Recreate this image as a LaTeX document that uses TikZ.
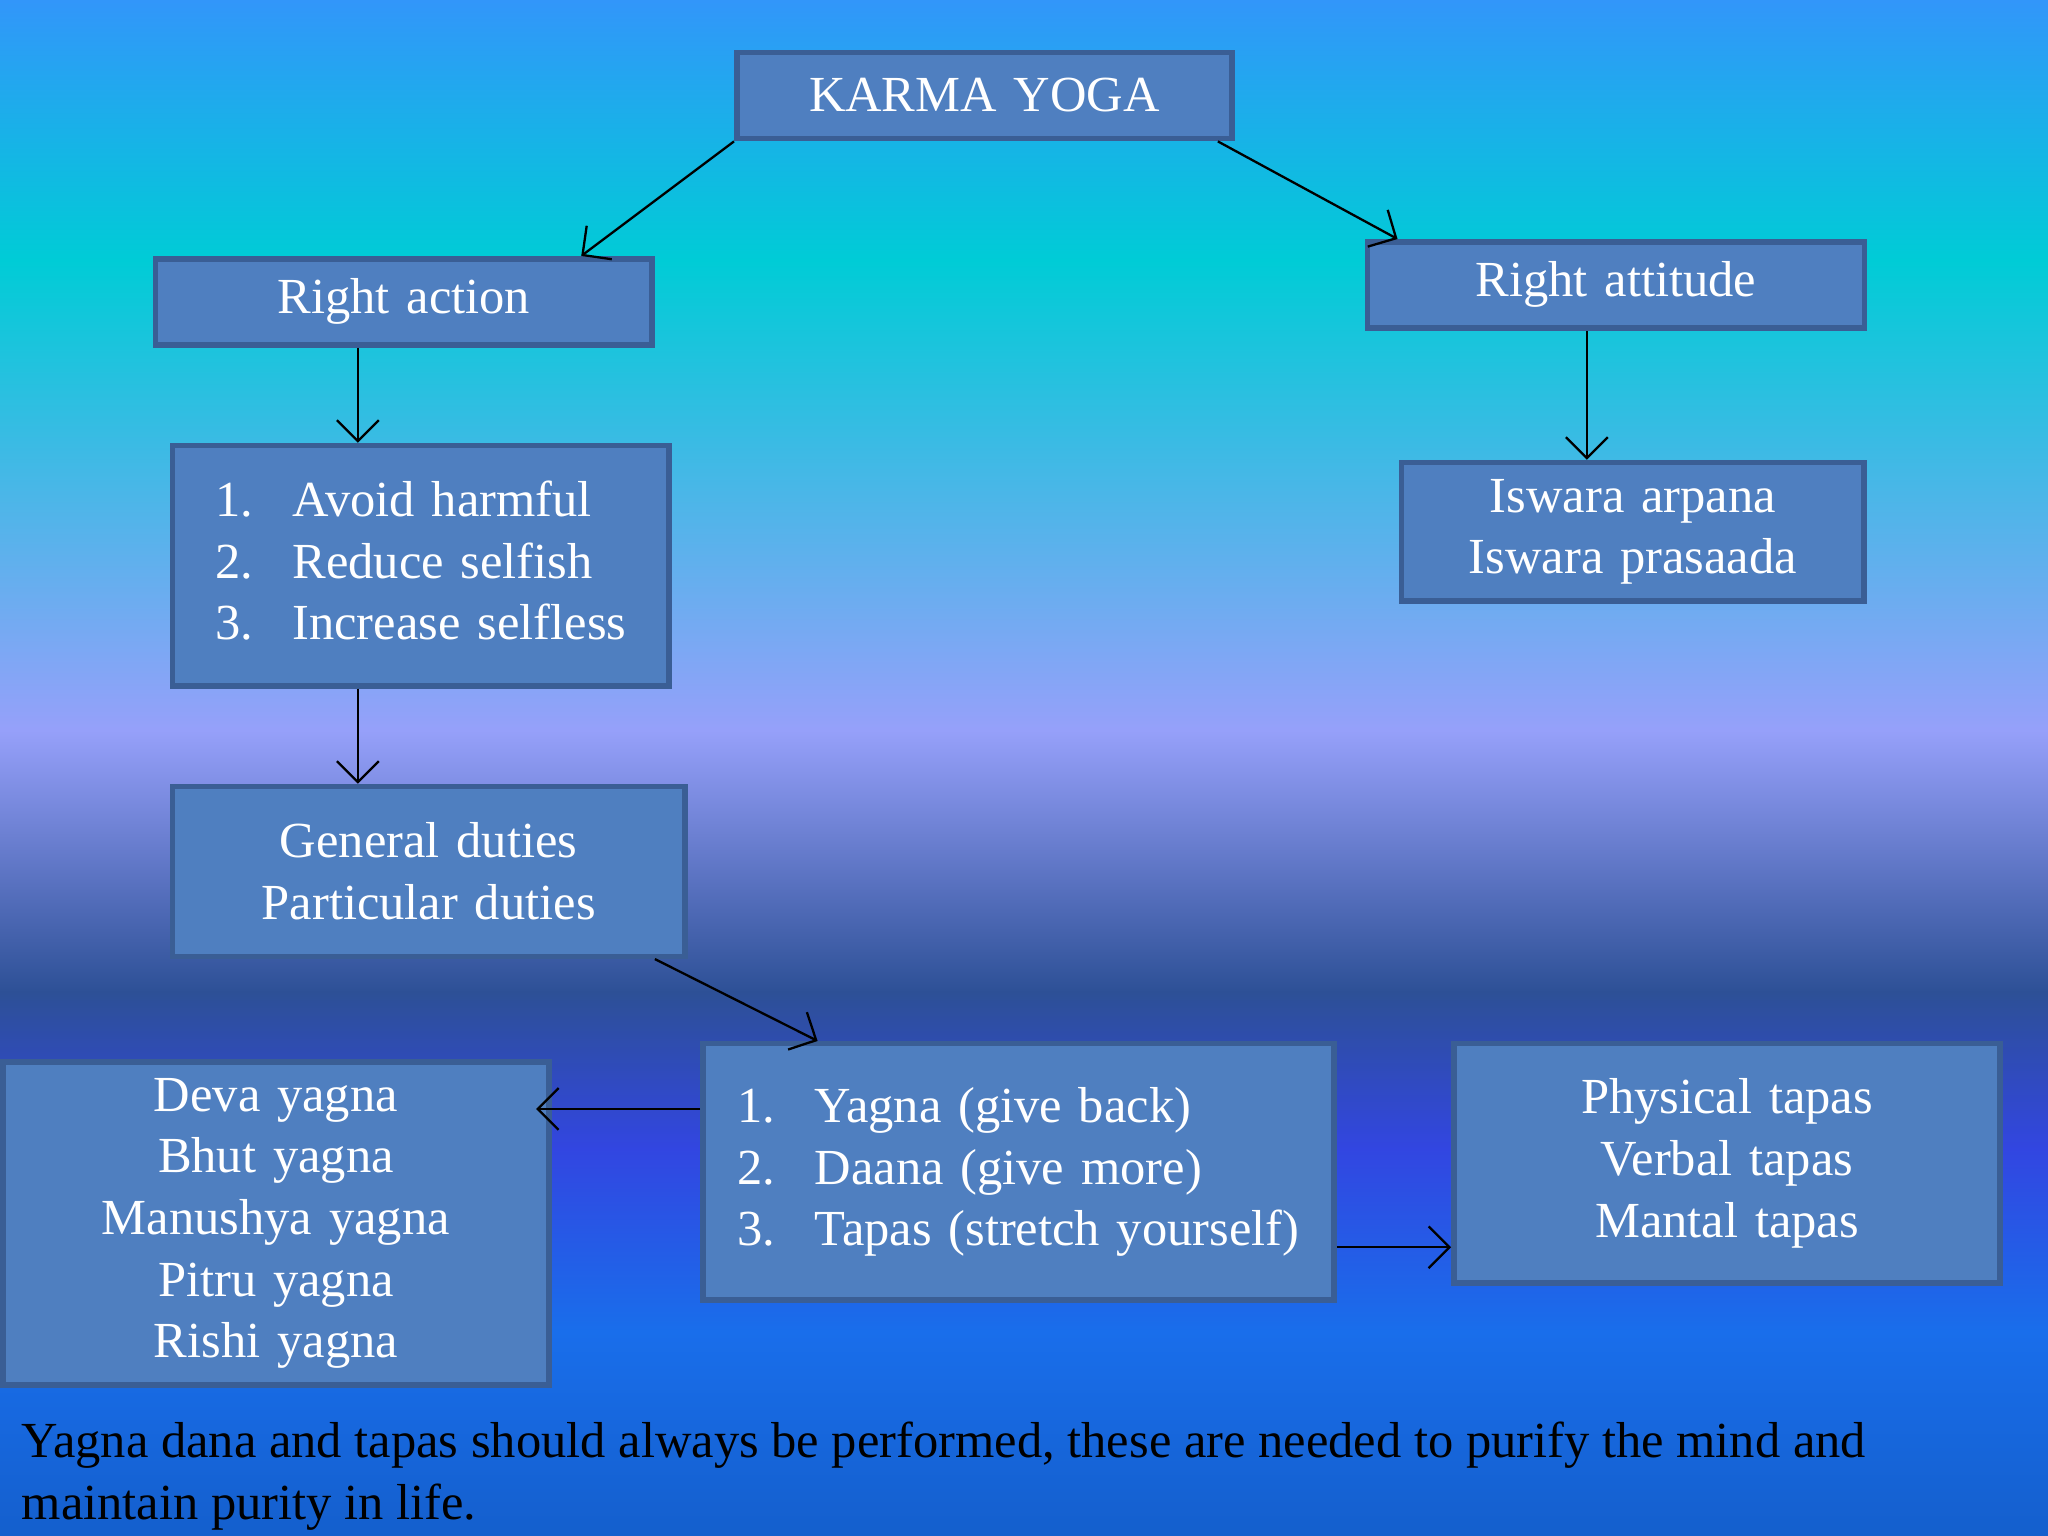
\documentclass[tikz,border=0pt]{standalone}
\usepackage{fontspec}
\setmainfont{Liberation Serif}
\usetikzlibrary{calc,arrows.meta}
\begin{document}
\begin{tikzpicture}[x=0.01cm,y=-0.01cm,
  box/.style={draw=boxline,fill=boxfill,line width=1.2pt,inner sep=0pt,anchor=north west,text=white,font=\fontsize{11}{13.4}\selectfont,align=center},
  arr/.style={-{Straight Barb[length=1.6mm,width=3.2mm]},line width=0.5pt}]
\definecolor{boxfill}{HTML}{4F7FC0}
\definecolor{boxline}{HTML}{3A5E95}
\useasboundingbox (0,0) rectangle (1568,1176);
\shade[top color={rgb,255:red,50;green,150;blue,250},bottom color={rgb,255:red,0;green,204;blue,214}] (0,0) rectangle (1568,200);
\shade[top color={rgb,255:red,0;green,204;blue,214},bottom color={rgb,255:red,150;green,160;blue,250}] (0,199) rectangle (1568,560);
\shade[top color={rgb,255:red,150;green,160;blue,250},bottom color={rgb,255:red,45;green,80;blue,150}] (0,559) rectangle (1568,760);
\shade[top color={rgb,255:red,45;green,80;blue,150},bottom color={rgb,255:red,50;green,70;blue,225}] (0,759) rectangle (1568,880);
\shade[top color={rgb,255:red,50;green,70;blue,225},bottom color={rgb,255:red,25;green,110;blue,235}] (0,879) rectangle (1568,1020);
\shade[top color={rgb,255:red,25;green,110;blue,235},bottom color={rgb,255:red,20;green,95;blue,205}] (0,1019) rectangle (1568,1176);

\node[box,text width=3.79cm,minimum height=0.66cm] (ky) at (562,38) {KARMA YOGA};
\node[box,text width=3.8cm,minimum height=0.66cm] (ra) at (117,196) {Right action};
\node[box,text width=3.8cm,minimum height=0.66cm] (rt) at (1045,183) {Right attitude};
\node[box,text width=3.8cm,minimum height=1.84cm] (l1) at (130,339) {\begin{tabular}{@{}r@{\hspace{0.3cm}}l@{}}1.&Avoid harmful\\2.&Reduce selfish\\3.&Increase selfless\end{tabular}};
\node[box,text width=3.54cm,minimum height=1.06cm] (iw) at (1071,352) {Iswara arpana\\Iswara prasaada};
\node[box,text width=3.92cm,minimum height=1.30cm] (gd) at (130,600) {General duties\\Particular duties};
\node[box,text width=4.83cm,minimum height=1.96cm] (yg) at (536,797) {\begin{tabular}{@{}r@{\hspace{0.3cm}}l@{}}1.&Yagna (give back)\\2.&Daana (give more)\\3.&Tapas (stretch yourself)\end{tabular}};
\node[box,text width=4.18cm,minimum height=2.47cm] (dv) at (0,811) {Deva yagna\\Bhut yagna\\Manushya yagna\\Pitru yagna\\Rishi yagna};
\node[box,text width=4.18cm,minimum height=1.83cm] (pt) at (1111,797) {Physical tapas\\Verbal tapas\\Mantal tapas};

\draw[arr] (ky.south west) -- ($(ra.north west)+(328,0)$);
\draw[arr] ($(ky.south east)+(-13,0)$) -- ($(rt.north west)+(25,0)$);
\draw[arr] ($(ra.south west)+(157,0)$) -- ($(l1.north west)+(144,0)$);
\draw[arr] ($(rt.south west)+(170,0)$) -- ($(iw.north west)+(144,0)$);
\draw[arr] ($(l1.south west)+(144,0)$) -- ($(gd.north west)+(144,0)$);
\draw[arr] ($(gd.south east)+(-25,0)$) -- ($(yg.north west)+(90,0)$);
\draw[arr] ($(yg.north west)+(0,52)$) -- ($(dv.north east)+(-12,38)$);
\coordinate (pin) at ($(pt.north west)+(0,158)$);
\draw[arr] (yg.east |- pin) -- (pin);

\node[anchor=north west,inner sep=0pt,text=black,align=left,font=\fontsize{11}{13.4}\selectfont] (ft) at (16,1088) {Yagna dana and tapas should always be performed, these are needed to purify the mind and\\maintain purity in life.};
\end{tikzpicture}
\end{document}
